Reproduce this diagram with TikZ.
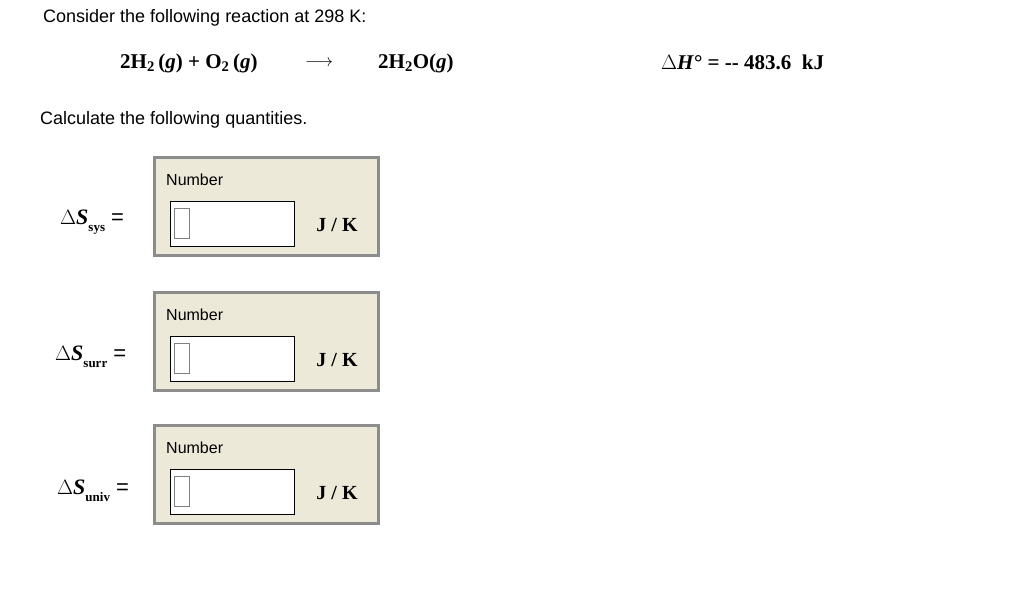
\documentclass[tikz,border=0pt]{standalone}
\usepackage{fontspec}
\setmainfont{Liberation Sans}
\newfontfamily\serf{Liberation Serif}
\definecolor{panel}{HTML}{ECE9D8}
\definecolor{bord}{HTML}{8C8C8C}
\tikzset{x=1pt,y=-1pt,
 panelbox/.style={draw=bord,line width=3pt,fill=panel},
 inbox/.style={draw=black,line width=0.8pt,fill=white},
 curbox/.style={draw=gray,line width=0.6pt,fill=white},
 txt/.style={anchor=west,inner sep=0pt,font=\fontsize{18}{20}\selectfont},
 eq/.style={anchor=west,inner sep=0pt,font=\serf\bfseries\fontsize{21}{24}\selectfont},
 unit/.style={anchor=center,inner sep=0pt,font=\serf\bfseries\fontsize{20}{22}\selectfont}}
\begin{document}
\begin{tikzpicture}
\useasboundingbox (0,0) rectangle (1024,602);
\node[txt] (t1) at (43,18) {Consider the following reaction at 298 K:};
\node[eq] (e1) at (120,63) {2H\textsubscript{2}\,(\textit{g}) + O\textsubscript{2}\,(\textit{g})};
\node[eq] (arr) at (305,63) {\fontspec{DejaVu Sans}\mdseries\fontsize{18}{20}\selectfont$\longrightarrow$};
\node[eq] (e2) at (378,63) {2H\textsubscript{2}O(\textit{g})};
\node[eq] (dh) at (661,62) {$\Delta$\textit{H}° = -- 483.6\ \ kJ};
\node[txt] (t2) at (40,120) {Calculate the following quantities.};
\foreach \y/\sub/\nm in {157/sys/a,292/surr/b,425/univ/c}{
 \draw[panelbox] (154,\y) rectangle (378,\y+98);
 \node[txt,font=\fontsize{16}{18}\selectfont] (n\nm) at (166,\y+23) {Number};
 \draw[inbox] (170,\y+44) rectangle (294,\y+89);
 \draw[curbox] (174,\y+51) rectangle (189,\y+81);
 \node[unit] (u\nm) at (337,\y+68) {J / K};
}
\node[eq,font=\serf\bfseries\fontsize{22}{24}\selectfont] (la) at (60,222) {$\Delta$\textit{S}\textsubscript{\raisebox{-4pt}{\fontsize{13}{14}\selectfont sys}}\ \mdseries\fontspec{Liberation Sans}=};
\node[eq,font=\serf\bfseries\fontsize{22}{24}\selectfont] (lb) at (55,357) {$\Delta$\textit{S}\textsubscript{\raisebox{-4pt}{\fontsize{13}{14}\selectfont surr}}\ \mdseries\fontspec{Liberation Sans}=};
\node[eq,font=\serf\bfseries\fontsize{22}{24}\selectfont] (lc) at (57,491) {$\Delta$\textit{S}\textsubscript{\raisebox{-4pt}{\fontsize{13}{14}\selectfont univ}}\ \mdseries\fontspec{Liberation Sans}=};
\end{tikzpicture}
\end{document}
